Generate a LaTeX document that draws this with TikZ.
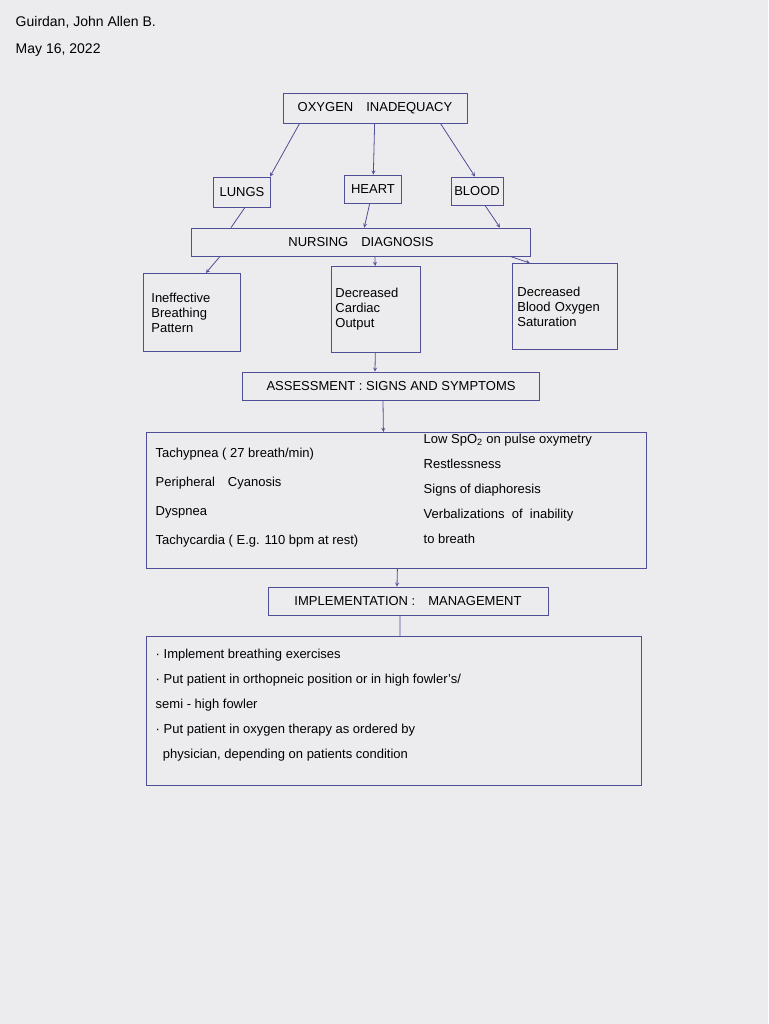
\documentclass[tikz,border=0pt]{standalone}
\usepackage{fontspec}
\setmainfont{Liberation Sans}
\definecolor{paper}{RGB}{236,236,238}
\definecolor{ink}{RGB}{80,78,150}
\begin{document}
\begin{tikzpicture}[x=1pt,y=-1pt,->,>=stealth,draw=ink,thick]
	\tikzstyle{box}=[draw=ink,thick,inner sep=3pt,font=\fontsize{13}{15}\selectfont]
	\tikzstyle{tall box}=[box,align=left,anchor=north west,inner xsep=8pt]
	\tikzstyle{link}=[draw=ink,thick,-]
	\fill[paper] (0,0) rectangle (768,1024);
	\useasboundingbox (0,0) rectangle (768,1024);

	% Author and date
	\node[anchor=west,font=\fontsize{14}{16}\selectfont] (name) at (12,22) {Guirdan, John Allen B.};
	\node[anchor=west,font=\fontsize{14}{16}\selectfont] (date) at (12,50) {May 16, 2022};

	% Top of the map
	\node[box,minimum width=184pt,minimum height=30pt] (oxy) at (375,108) {OXYGEN\quad INADEQUACY};
	\node[box,minimum width=57pt,minimum height=30pt] (lungs) at (242,192) {LUNGS};
	\node[box,minimum width=57pt,minimum height=28pt] (heart) at (373,189) {HEART};
	\node[box,minimum width=52pt,minimum height=28pt] (blood) at (477,191) {BLOOD};
	\node[box,minimum width=339pt,minimum height=28pt] (nd) at (361,242) {NURSING\quad DIAGNOSIS};

	% Diagnoses
	\node[tall box,text width=81pt,minimum height=78pt] (ibp) at (143,273) {Ineffective\\Breathing\\Pattern};
	\node[tall box,text width=81pt,minimum height=86pt,inner xsep=4pt] (dco) at (331,266) {Decreased\\Cardiac\\Output};
	\node[tall box,text width=95pt,minimum height=86pt,inner xsep=5pt] (dbo) at (512,263) {Decreased\\Blood Oxygen\\Saturation};

	% Assessment
	\node[box,minimum width=297pt,minimum height=28pt] (assess) at (391,386) {ASSESSMENT : SIGNS AND SYMPTOMS};
	\node[tall box,minimum width=500pt,minimum height=136pt] (signs) at (146,432) {};
	\node[anchor=north west,align=left,font=\fontsize{13}{29}\selectfont] (signsl) at (152,444)
		{Tachypnea ( 27 breath/min)\\Peripheral\quad Cyanosis\\Dyspnea\\Tachycardia ( E.g. 110 bpm at rest)};
	\node[anchor=north west,align=left,font=\fontsize{13}{25}\selectfont] (signsr) at (420,430)
		{Low SpO\textsubscript{2} on pulse oxymetry\\Restlessness\\Signs of diaphoresis\\Verbalizations\ \ of\ \ inability\\to breath};

	% Implementation
	\node[box,minimum width=280pt,minimum height=28pt] (impl) at (408,601) {IMPLEMENTATION :\quad MANAGEMENT};
	\node[tall box,minimum width=495pt,minimum height=149pt] (mgmt) at (146,636) {};
	\node[anchor=north west,align=left,font=\fontsize{13}{25}\selectfont] (mgmtl) at (152,645)
		{\textperiodcentered\ Implement breathing exercises\\\textperiodcentered\ Put patient in orthopneic position or in high fowler's/\\semi - high fowler\\\textperiodcentered\ Put patient in oxygen therapy as ordered by\\\ \ physician, depending on patients condition};

	% Connections
	\draw (oxy.south west)++(17,0) -- ([xshift=28pt]lungs.north);
	\draw (oxy) -- (heart);
	\draw (oxy.south east)++(-27,0) -- ([xshift=-2pt]blood.north);
	\draw[link] ([xshift=3pt]lungs.south) -- ([xshift=-130pt]nd.north);
	\draw (heart) -- (nd);
	\draw ([xshift=8pt]blood.south) -- ([xshift=139pt]nd.north);
	\draw ([xshift=-141pt]nd.south) -- ([xshift=14pt]ibp.north);
	\draw ([xshift=14pt]nd.south) -- (dco);
	\draw ([xshift=149pt]nd.south) -- ([xshift=-35pt]dbo.north);
	\draw (dco) -- ([xshift=-16pt]assess.north);
	\draw ([xshift=-8pt]assess.south) -- ([xshift=-13pt]signs.north);
	\draw ([xshift=1pt]signs.south) -- ([xshift=-11pt]impl.north);
	\draw[link] ([xshift=-8pt]impl.south) -- ([xshift=6pt]mgmt.north);
\end{tikzpicture}
\end{document}
